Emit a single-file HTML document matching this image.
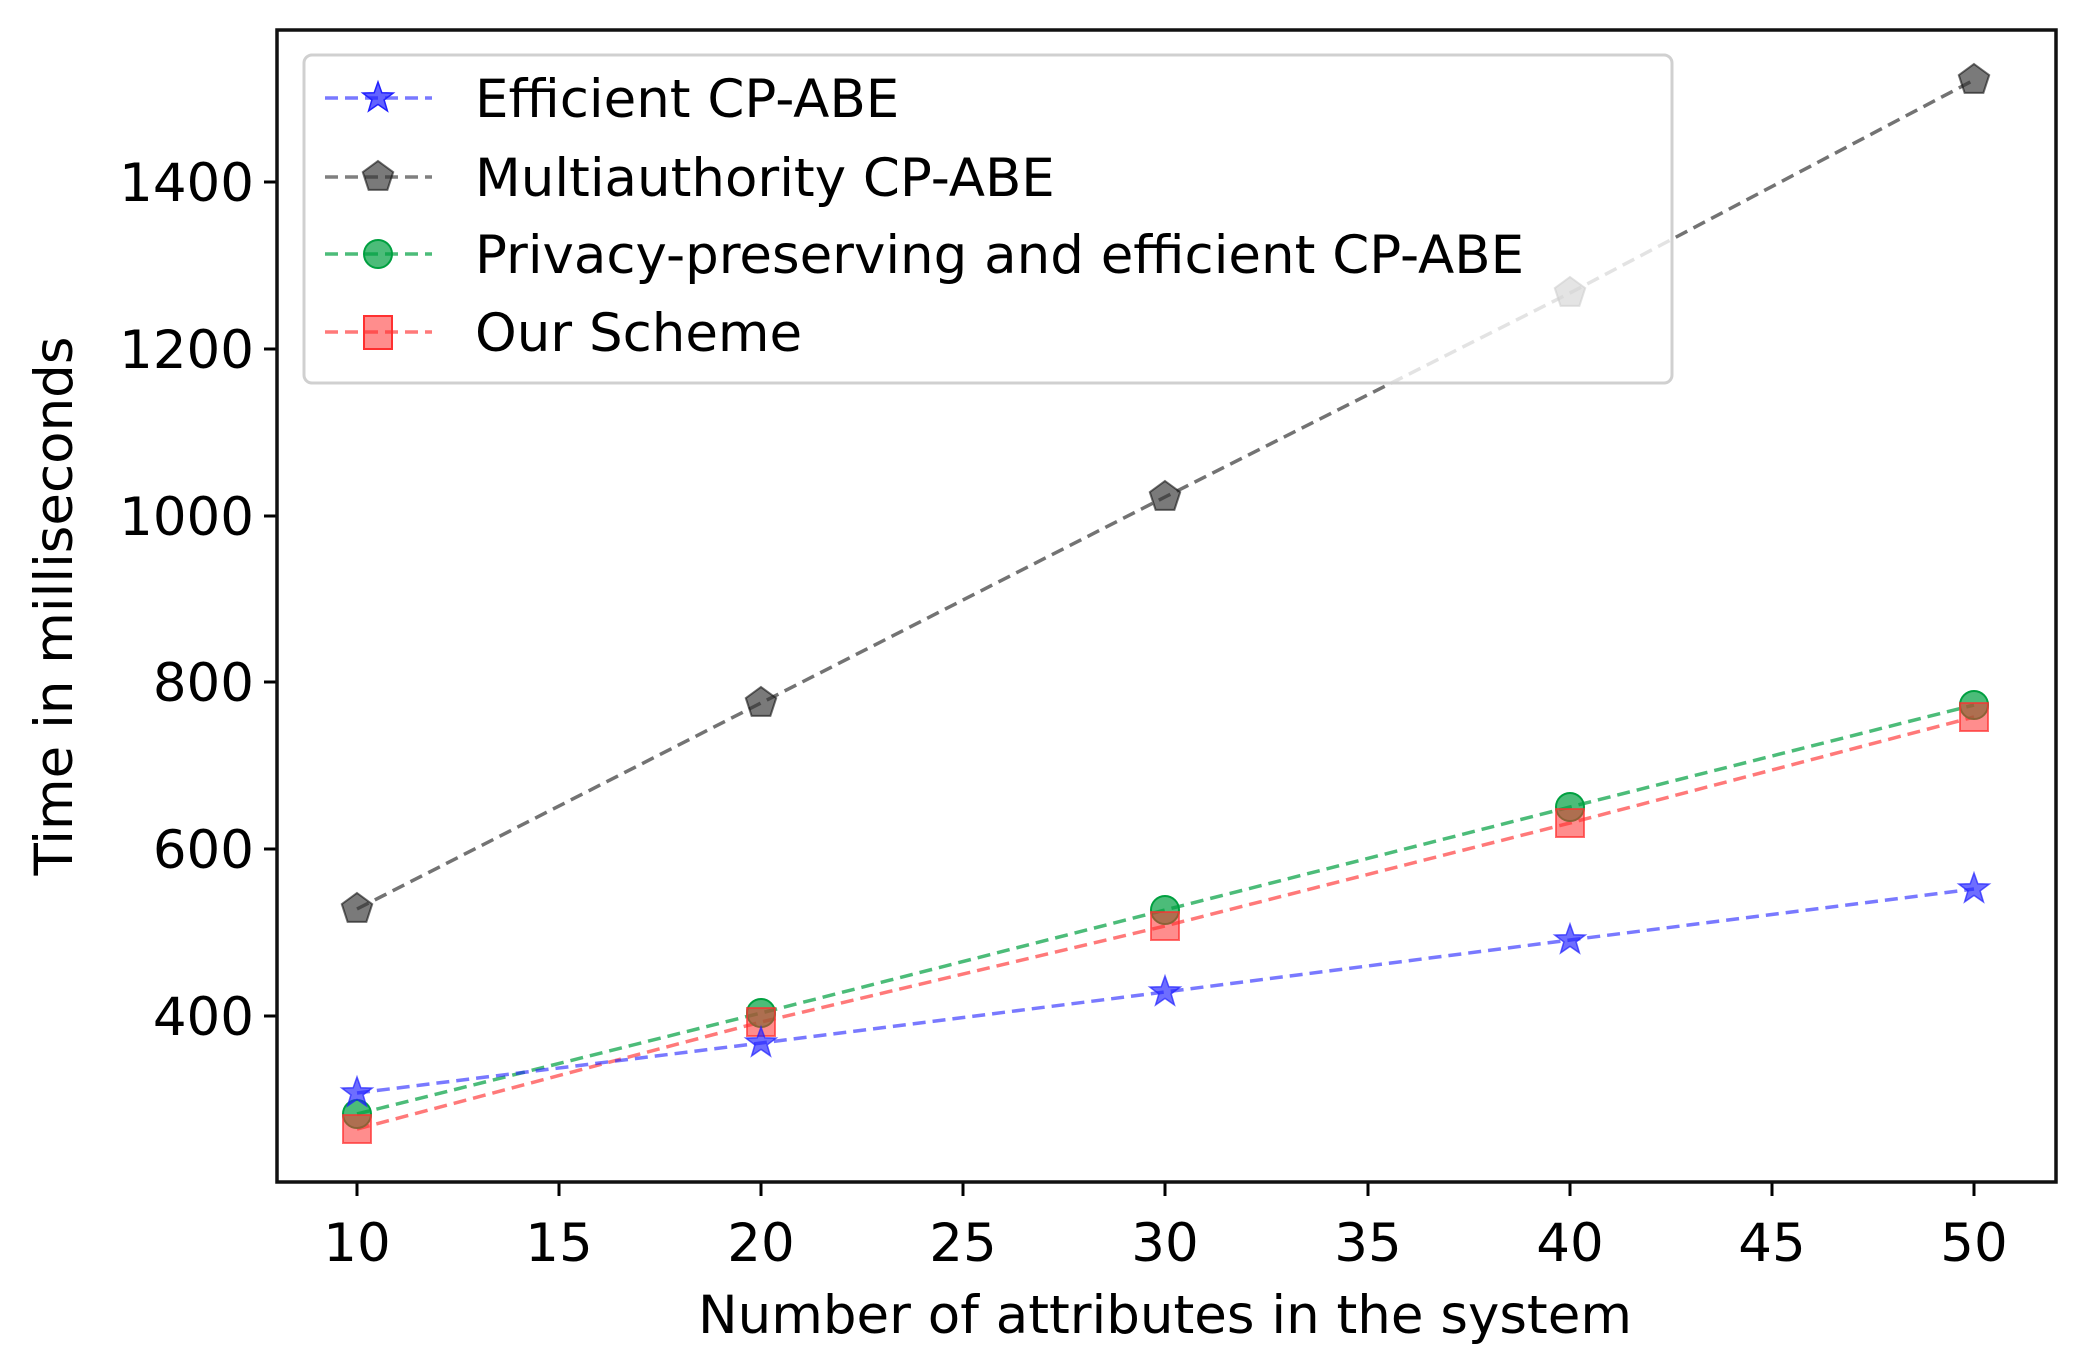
<!DOCTYPE html>
<html><head><meta charset="utf-8"><style>
html,body{margin:0;padding:0;background:#fff;}
svg{display:block;font-family:"DejaVu Sans","Liberation Sans",sans-serif;}
</style></head><body>
<svg width="2082" height="1362" viewBox="0 0 2082 1362" xmlns="http://www.w3.org/2000/svg">
<defs>
<g id="star"><polygon points="0,-16 3.8,-5.2 15.2,-4.9 6.1,1.9 9.4,12.9 0,6.4 -9.4,12.9 -6.1,1.9 -15.2,-4.9 -3.8,-5.2"/></g>
<g id="pent"><polygon points="0,-16 15.2,-4.9 9.4,12.9 -9.4,12.9 -15.2,-4.9"/></g>
</defs>
<rect x="0" y="0" width="2082" height="1362" fill="#fff"/>
<g stroke="#000" stroke-width="3">
<line x1="264" y1="182" x2="277" y2="182"/>
<line x1="264" y1="349" x2="277" y2="349"/>
<line x1="264" y1="516" x2="277" y2="516"/>
<line x1="264" y1="682" x2="277" y2="682"/>
<line x1="264" y1="849" x2="277" y2="849"/>
<line x1="264" y1="1016" x2="277" y2="1016"/>
</g>
<g font-size="53" text-anchor="end" fill="#000">
<text x="254" y="201">1400</text>
<text x="254" y="368">1200</text>
<text x="254" y="535">1000</text>
<text x="254" y="701">800</text>
<text x="254" y="868">600</text>
<text x="254" y="1035">400</text>
</g>
<g stroke="#000" stroke-width="3">
<line x1="357" y1="1182" x2="357" y2="1196"/><line x1="559" y1="1182" x2="559" y2="1196"/>
<line x1="761" y1="1182" x2="761" y2="1196"/><line x1="963" y1="1182" x2="963" y2="1196"/>
<line x1="1165" y1="1182" x2="1165" y2="1196"/><line x1="1368" y1="1182" x2="1368" y2="1196"/>
<line x1="1570" y1="1182" x2="1570" y2="1196"/><line x1="1772" y1="1182" x2="1772" y2="1196"/>
<line x1="1974" y1="1182" x2="1974" y2="1196"/>
</g>
<g font-size="53" text-anchor="middle" fill="#000">
<text x="357" y="1261">10</text><text x="559" y="1261">15</text><text x="761" y="1261">20</text>
<text x="963" y="1261">25</text><text x="1165" y="1261">30</text><text x="1368" y="1261">35</text>
<text x="1570" y="1261">40</text><text x="1772" y="1261">45</text><text x="1974" y="1261">50</text>
<text x="1165" y="1333">Number of attributes in the system</text>
<text transform="translate(72,606) rotate(-90)">Time in milliseconds</text>
</g>
<g fill="none" stroke-width="3.5" stroke-dasharray="13,7">
<polyline stroke="#000" stroke-opacity="0.55" points="357,909 761,703 1165,497 1570,293 1974,80"/>
<polyline stroke="#00a040" stroke-opacity="0.7" points="357,1114 761,1013 1165,910 1570,807 1974,705"/>
<polyline stroke="#ff2020" stroke-opacity="0.6" points="357,1129 761,1022 1165,926 1570,823 1974,717"/>
<polyline stroke="#2020ff" stroke-opacity="0.6" points="357,1093 761,1043 1165,992 1570,940 1974,889"/>
</g>
<g fill="#333" fill-opacity="0.65" stroke="#111" stroke-opacity="0.6" stroke-width="2">
<use href="#pent" x="357" y="909"/><use href="#pent" x="761" y="703"/><use href="#pent" x="1165" y="497"/><use href="#pent" x="1570" y="293"/><use href="#pent" x="1974" y="80"/>
</g>
<g fill="#00a040" fill-opacity="0.7" stroke="#00a040" stroke-width="2">
<circle cx="357" cy="1114" r="14"/><circle cx="761" cy="1013" r="14"/><circle cx="1165" cy="910" r="14"/><circle cx="1570" cy="807" r="14"/><circle cx="1974" cy="705" r="14"/>
</g>
<g fill="#ff3030" fill-opacity="0.55" stroke="#ff3030" stroke-opacity="0.7" stroke-width="2">
<rect x="343" y="1115" width="28" height="28"/><rect x="747" y="1008" width="28" height="28"/><rect x="1151" y="912" width="28" height="28"/><rect x="1556" y="809" width="28" height="28"/><rect x="1960" y="703" width="28" height="28"/>
</g>
<g fill="#2020ff" fill-opacity="0.65" stroke="#2020ff" stroke-opacity="0.7" stroke-width="1.5">
<use href="#star" x="357" y="1093"/><use href="#star" x="761" y="1043"/><use href="#star" x="1165" y="992"/><use href="#star" x="1570" y="940"/><use href="#star" x="1974" y="889"/>
</g>
<rect x="304" y="55" width="1368" height="328" rx="8" fill="#fff" fill-opacity="0.8" stroke="#d0d0d0" stroke-width="3"/>
<g fill="none" stroke-width="3.5" stroke-dasharray="13,7">
<line x1="325" y1="98" x2="432" y2="98" stroke="#2020ff" stroke-opacity="0.6"/>
<line x1="325" y1="177" x2="432" y2="177" stroke="#000" stroke-opacity="0.5"/>
<line x1="325" y1="254" x2="432" y2="254" stroke="#00a040" stroke-opacity="0.7"/>
<line x1="325" y1="332" x2="432" y2="332" stroke="#ff2020" stroke-opacity="0.6"/>
</g>
<use href="#star" x="378" y="98" fill="#2020ff" fill-opacity="0.7" stroke="#2020ff" stroke-width="1.5"/>
<use href="#pent" x="378" y="177" fill="#333" fill-opacity="0.65" stroke="#111" stroke-opacity="0.6" stroke-width="2"/>
<circle cx="378" cy="254" r="14" fill="#00a040" fill-opacity="0.7" stroke="#00a040" stroke-width="2"/>
<rect x="364" y="316" width="28" height="33" fill="#ff3030" fill-opacity="0.55" stroke="#ff3030" stroke-width="2"/>
<g font-size="53" fill="#000">
<text x="475" y="117">Efficient CP-ABE</text>
<text x="475" y="196">Multiauthority CP-ABE</text>
<text x="475" y="273">Privacy-preserving and efficient CP-ABE</text>
<text x="475" y="351">Our Scheme</text>
</g>
<rect x="277" y="30" width="1779" height="1152" fill="none" stroke="#111" stroke-width="3.5"/>
</svg>
</body></html>
